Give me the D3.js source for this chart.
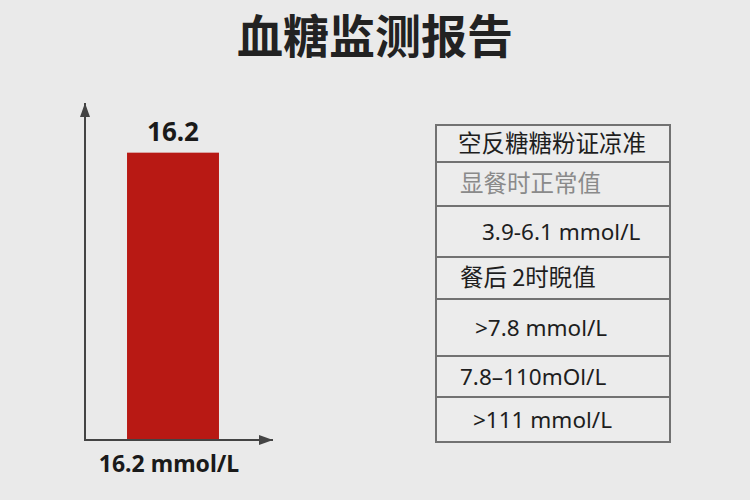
<!DOCTYPE html>
<html>
<head>
<meta charset="utf-8">
<script src="https://cdn.jsdelivr.net/npm/d3@7"></script>
<style>
  body { margin: 0; background: #eaeaea; }
  svg { display: block; }
</style>
</head>
<body>
<div id="chart"></div>
<script>
// data
var title = '血糖监测报告';
var categories = ['16.2 mmol/L'];
var values = [16.2];
var yMax = 19;
var tableRows = [
  '空反糖糖粉证凉准',
  '显餐时正常值',
  '3.9-6.1 mmol/L',
  '餐后 2时睨值',
  '>7.8 mmol/L',
  '7.8–110mOl/L',
  '>111 mmol/L'
];

var width = 750, height = 500;
var latin = '"Noto Sans", "Noto Sans CJK SC", sans-serif';
var cjk = '"Noto Sans CJK SC", "Noto Sans", sans-serif';

var svg = d3.select('#chart').append('svg')
  .attr('width', width)
  .attr('height', height);

svg.append('rect')
  .attr('width', width).attr('height', height)
  .attr('fill', '#eaeaea');

// title
svg.append('text')
  .attr('x', 375).attr('y', 53)
  .attr('text-anchor', 'middle')
  .attr('font-family', cjk)
  .attr('font-weight', 700)
  .attr('font-size', 46)
  .attr('fill', '#222')
  .text(title);

// bar chart
var x0 = 85, y0 = 440;
var x = d3.scaleBand().domain(categories).range([85, 261]).paddingInner(0).paddingOuter(0.457);
var y = d3.scaleLinear().domain([0, yMax]).range([y0, 103]);

var defs = svg.append('defs');
defs.append('marker')
  .attr('id', 'arrow')
  .attr('viewBox', '0 0 14 10')
  .attr('refX', 14).attr('refY', 5)
  .attr('markerWidth', 14).attr('markerHeight', 10)
  .attr('markerUnits', 'userSpaceOnUse')
  .attr('orient', 'auto')
  .append('path')
  .attr('d', 'M0,0 L14,5 L0,10 Z')
  .attr('fill', '#444');

svg.selectAll('rect.bar')
  .data(values)
  .enter().append('rect')
  .attr('class', 'bar')
  .attr('x', function (d, i) { return x(categories[i]); })
  .attr('width', x.bandwidth())
  .attr('y', function (d) { return y(d); })
  .attr('height', function (d) { return y0 - y(d); })
  .attr('fill', '#b81914');

// axes with arrows
svg.append('line')
  .attr('x1', x0).attr('y1', y0 + 1)
  .attr('x2', x0).attr('y2', y(yMax))
  .attr('stroke', '#444').attr('stroke-width', 2)
  .attr('marker-end', 'url(#arrow)');
svg.append('line')
  .attr('x1', x0 - 1).attr('y1', y0)
  .attr('x2', 273).attr('y2', y0)
  .attr('stroke', '#444').attr('stroke-width', 2)
  .attr('marker-end', 'url(#arrow)');

svg.selectAll('text.val')
  .data(values)
  .enter().append('text')
  .attr('class', 'val')
  .attr('x', function (d, i) { return x(categories[i]) + x.bandwidth() / 2; })
  .attr('y', function (d) { return y(d) - 12; })
  .attr('text-anchor', 'middle')
  .attr('font-family', latin)
  .attr('font-weight', 700)
  .attr('font-size', 26)
  .attr('fill', '#1a1a1a')
  .text(function (d) { return d.toFixed(1); });

svg.selectAll('text.cat')
  .data(categories)
  .enter().append('text')
  .attr('class', 'cat')
  .attr('x', function (d) { return x(d) + x.bandwidth() / 2 - 4; })
  .attr('y', 472)
  .attr('text-anchor', 'middle')
  .attr('font-family', latin)
  .attr('font-weight', 700)
  .attr('font-size', 23)
  .attr('fill', '#1a1a1a')
  .text(function (d) { return d; });

// reference table
var tLeft = 436, tRight = 670, tTop = 125;
var rowH = [37, 44, 51, 42, 57, 41, 45];
var rowTextX = [552, 460, 482, 460, 475, 460, 473];
var rowTop = [tTop];
rowH.forEach(function (h, i) { rowTop.push(rowTop[i] + h); });

var table = svg.append('g').attr('class', 'table');
table.append('rect')
  .attr('x', tLeft).attr('y', tTop)
  .attr('width', tRight - tLeft)
  .attr('height', rowTop[rowTop.length - 1] - tTop)
  .attr('fill', '#ececec')
  .attr('stroke', '#727272').attr('stroke-width', 2);

table.selectAll('line.row')
  .data(rowTop.slice(1, -1))
  .enter().append('line')
  .attr('class', 'row')
  .attr('x1', tLeft).attr('x2', tRight)
  .attr('y1', function (d) { return d; })
  .attr('y2', function (d) { return d; })
  .attr('stroke', '#727272').attr('stroke-width', 2);

table.selectAll('text.cell')
  .data(tableRows)
  .enter().append('text')
  .attr('class', 'cell')
  .attr('x', function (d, i) { return rowTextX[i]; })
  .attr('y', function (d, i) { return rowTop[i] + rowH[i] / 2 + 8; })
  .attr('text-anchor', function (d, i) { return i === 0 ? 'middle' : 'start'; })
  .attr('font-family', function (d) { return /[\u4e00-\u9fff]/.test(d) ? cjk : latin; })
  .attr('font-size', function (d) { return /[\u4e00-\u9fff]/.test(d) ? 23.5 : 22.5; })
  .attr('fill', function (d, i) { return i === 1 ? '#8a8a8a' : '#1e1e1e'; })
  .text(function (d) { return d; });
</script>
</body>
</html>
